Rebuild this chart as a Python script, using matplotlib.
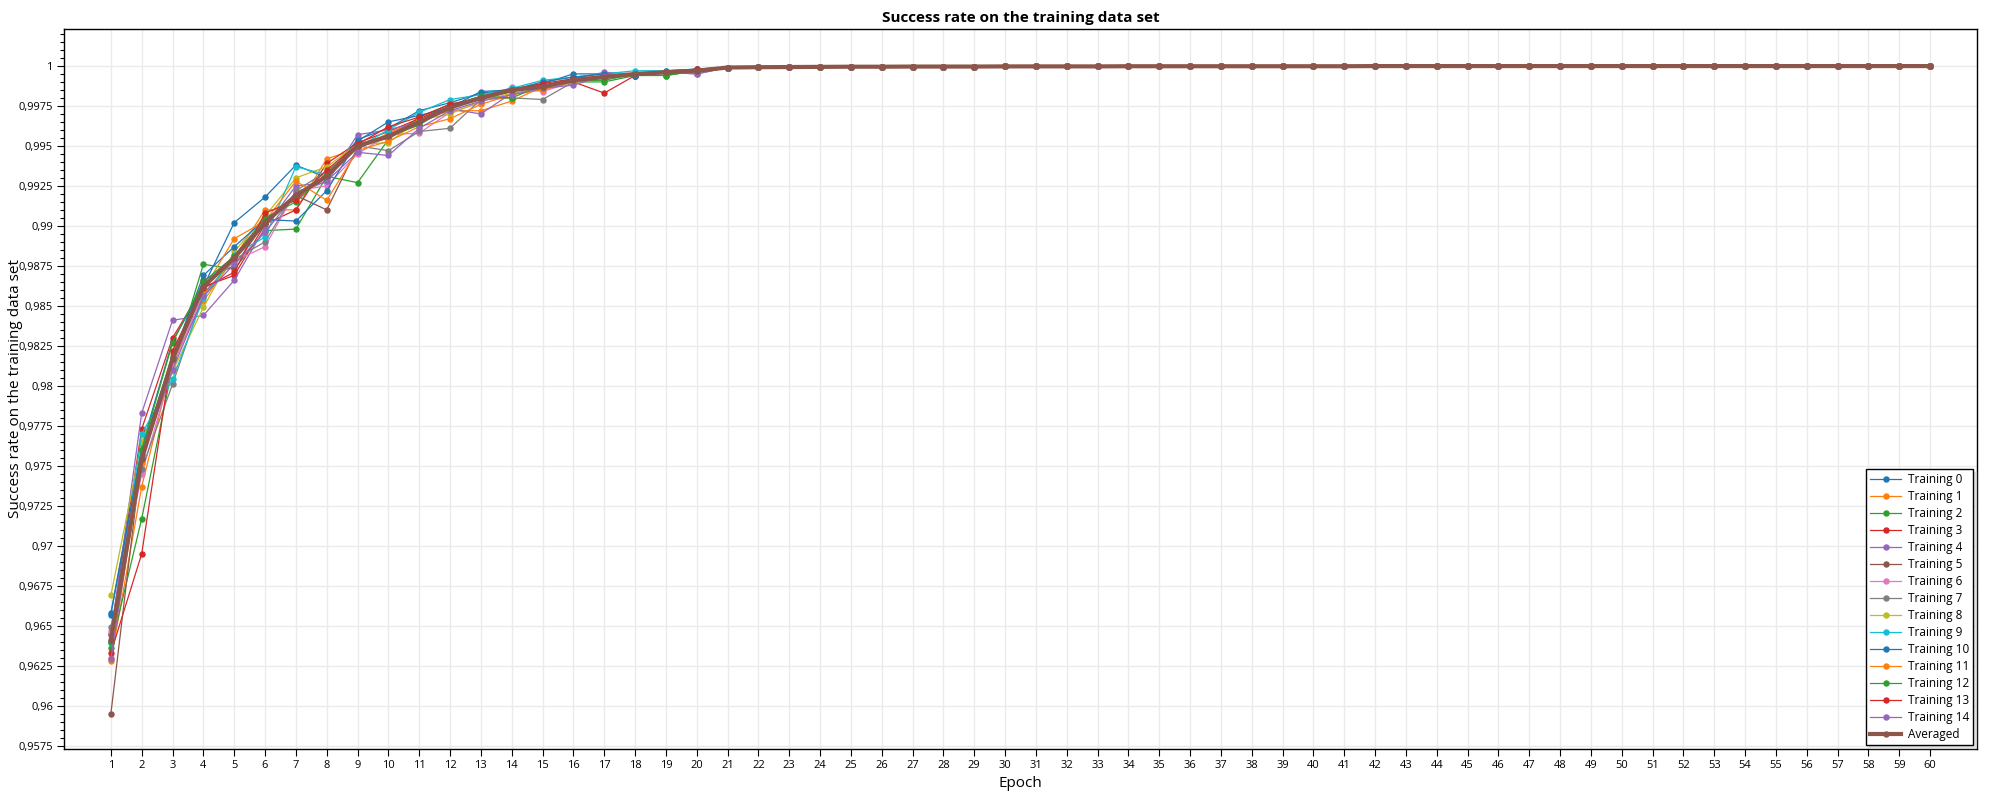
import matplotlib
matplotlib.use("Agg")
import matplotlib.pyplot as plt
from matplotlib.ticker import MultipleLocator, FuncFormatter

plt.rcParams['font.family'] = ['Open Sans', 'DejaVu Sans']

epochs = list(range(1, 61))

# epochs 1..21
head = {
    "Training 0":  [0.9658, 0.9762, 0.9828, 0.9862, 0.9902, 0.9918, 0.9938, 0.9930, 0.9954, 0.9961, 0.9972, 0.9977, 0.9983, 0.9985, 0.9989, 0.9995, 0.9995, 0.9994, 0.9996, 0.9997, 0.9999],
    "Training 1":  [0.9628, 0.9737, 0.9815, 0.9853, 0.9880, 0.9910, 0.9910, 0.9942, 0.9948, 0.9958, 0.9966, 0.9972, 0.9972, 0.9978, 0.9987, 0.9991, 0.9993, 0.9995, 0.9996, 0.9997, 0.9999],
    "Training 2":  [0.9636, 0.9717, 0.9812, 0.9876, 0.9873, 0.9897, 0.9898, 0.9931, 0.9927, 0.9954, 0.9968, 0.9976, 0.9980, 0.9984, 0.9988, 0.9990, 0.9990, 0.9994, 0.9994, 0.9997, 0.9999],
    "Training 3":  [0.9645, 0.9773, 0.9830, 0.9862, 0.9869, 0.9901, 0.9910, 0.9939, 0.9952, 0.9959, 0.9967, 0.9975, 0.9981, 0.9986, 0.9988, 0.9990, 0.9983, 0.9994, 0.9996, 0.9998, 0.9999],
    "Training 4":  [0.9644, 0.9783, 0.9841, 0.9844, 0.9866, 0.9899, 0.9925, 0.9927, 0.9957, 0.9960, 0.9965, 0.9973, 0.9970, 0.9983, 0.9986, 0.9992, 0.9996, 0.9995, 0.9996, 0.9995, 0.9999],
    "Training 5":  [0.9595, 0.9757, 0.9817, 0.9866, 0.9875, 0.9902, 0.9919, 0.9910, 0.9949, 0.9955, 0.9964, 0.9974, 0.9979, 0.9984, 0.9987, 0.9991, 0.9993, 0.9995, 0.9996, 0.9997, 0.9999],
    "Training 6":  [0.9647, 0.9745, 0.9812, 0.9858, 0.9878, 0.9887, 0.9922, 0.9925, 0.9945, 0.9957, 0.9958, 0.9971, 0.9977, 0.9987, 0.9984, 0.9990, 0.9993, 0.9995, 0.9996, 0.9997, 0.9999],
    "Training 7":  [0.9649, 0.9748, 0.9801, 0.9857, 0.9879, 0.9890, 0.9922, 0.9934, 0.9950, 0.9947, 0.9959, 0.9961, 0.9979, 0.9980, 0.9979, 0.9990, 0.9993, 0.9995, 0.9996, 0.9997, 0.9999],
    "Training 8":  [0.9669, 0.9765, 0.9809, 0.9849, 0.9884, 0.9906, 0.9930, 0.9937, 0.9951, 0.9952, 0.9966, 0.9970, 0.9978, 0.9983, 0.9987, 0.9991, 0.9993, 0.9995, 0.9996, 0.9997, 0.9999],
    "Training 9":  [0.9639, 0.9770, 0.9804, 0.9855, 0.9882, 0.9893, 0.9937, 0.9932, 0.9949, 0.9960, 0.9971, 0.9979, 0.9982, 0.9986, 0.9991, 0.9993, 0.9995, 0.9997, 0.9997, 0.9998, 0.9999],
    "Training 10": [0.9657, 0.9760, 0.9818, 0.9869, 0.9887, 0.9904, 0.9903, 0.9922, 0.9953, 0.9965, 0.9969, 0.9974, 0.9984, 0.9985, 0.9990, 0.9993, 0.9995, 0.9994, 0.9997, 0.9998, 0.9999],
    "Training 11": [0.9630, 0.9752, 0.9820, 0.9860, 0.9892, 0.9903, 0.9928, 0.9916, 0.9947, 0.9953, 0.9962, 0.9967, 0.9976, 0.9982, 0.9985, 0.9990, 0.9993, 0.9995, 0.9996, 0.9997, 0.9999],
    "Training 12": [0.9640, 0.9760, 0.9827, 0.9865, 0.9881, 0.9905, 0.9915, 0.9933, 0.9950, 0.9956, 0.9963, 0.9975, 0.9981, 0.9980, 0.9988, 0.9991, 0.9991, 0.9995, 0.9994, 0.9997, 0.9999],
    "Training 13": [0.9633, 0.9695, 0.9822, 0.9861, 0.9871, 0.9908, 0.9916, 0.9935, 0.9951, 0.9962, 0.9968, 0.9976, 0.9980, 0.9985, 0.9989, 0.9992, 0.9994, 0.9995, 0.9996, 0.9998, 0.9999],
    "Training 14": [0.9629, 0.9755, 0.9810, 0.9856, 0.9876, 0.9896, 0.9920, 0.9928, 0.9946, 0.9944, 0.9961, 0.9972, 0.9978, 0.9982, 0.9986, 0.9988, 0.9994, 0.9995, 0.9996, 0.9995, 0.9999],
}
averaged_head = [0.9641, 0.9754, 0.9817, 0.9862, 0.9880, 0.9902, 0.9919, 0.9931, 0.9950, 0.9956,
                 0.9965, 0.9974, 0.9980, 0.9985, 0.9987, 0.9991, 0.9993, 0.9995, 0.9996, 0.9997, 0.9999]

# epochs 22..60, all runs sit on top of each other here
tail = [0.99992, 0.99993, 0.99994, 0.99995, 0.99995, 0.99996, 0.99996, 0.99996, 0.99997, 0.99997,
        0.99997, 0.99997, 0.99998, 0.99998, 0.99998, 0.99998, 0.99998, 0.99998, 0.99998, 0.99998,
        0.99999, 0.99999, 0.99999, 0.99999, 0.99999, 0.99999, 0.99999, 0.99999, 0.99999, 0.99999,
        0.99999, 0.99999, 0.99999, 0.99999, 0.99999, 0.99999, 0.99999, 0.99999, 0.99999]

colors = plt.rcParams['axes.prop_cycle'].by_key()['color']

fig = plt.figure(figsize=(20, 8), dpi=100)
ax = fig.add_axes([0.032, 0.064, 0.9565, 0.8998])

for i, (name, vals) in enumerate(head.items()):
    ax.plot(epochs, vals + tail, color=colors[i % 10], lw=0.9,
            marker='o', ms=3.6, label=name, zorder=2)
ax.plot(epochs, averaged_head + tail, color='#8c564b', lw=3, marker='o', ms=3.6,
        label='Averaged', zorder=3)

ax.set_xlim(-0.52, 61.52)
ax.set_ylim(0.95731, 1.00231)
ax.set_xticks(epochs)
ax.yaxis.set_major_locator(MultipleLocator(0.0025))
ax.yaxis.set_minor_locator(MultipleLocator(0.0005))
ax.yaxis.set_major_formatter(FuncFormatter(lambda v, p: ('%g' % v).replace('.', ',')))
ax.tick_params(axis='both', which='major', labelsize=8, length=5, width=0.8, pad=3)
ax.tick_params(axis='y', which='minor', length=3, width=0.8)
ax.grid(True, color='#ebebeb', lw=1, zorder=0)
ax.set_axisbelow(True)
for s in ax.spines.values():
    s.set_linewidth(1)
    s.set_color('black')

ax.set_title("Success rate on the training data set", fontsize=11, fontweight='bold', pad=5)
ax.set_xlabel("Epoch", fontsize=11)
ax.set_ylabel("Success rate on the training data set", fontsize=11)
ax.yaxis.set_label_coords(-0.0215, 0.5)
ax.xaxis.set_label_coords(0.5, -0.038)

leg = ax.legend(loc='lower right', fontsize=8.5, frameon=True, fancybox=False,
                shadow={'color': '0.8'}, framealpha=1, edgecolor='black',
                borderaxespad=0.3, handlelength=2.6, labelspacing=0.34, borderpad=0.35,
                handletextpad=0.6)
leg.get_frame().set_linewidth(1)

fig.savefig("out.png", dpi=100)
